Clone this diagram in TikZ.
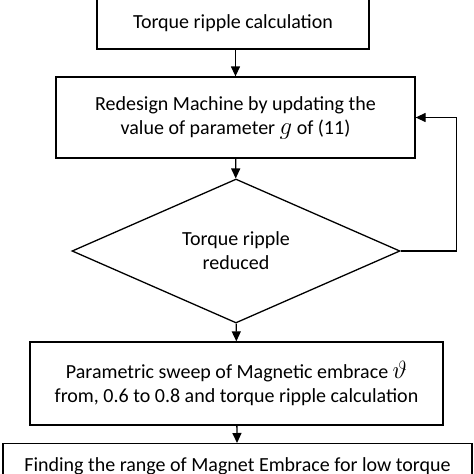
\documentclass[tikz,border=0pt]{standalone}
\usepackage{fontspec}
\setmainfont{Carlito}
\usetikzlibrary{
    arrows.meta,
    shapes.geometric,
    positioning
}
\newcommand{\bigsym}[1]{{\fontsize{24}{24}\selectfont$#1$}}

\begin{document}
\begin{tikzpicture}[x=1pt, y=-1pt,
    stepbox/.style={draw, line width=1.3pt, align=center, inner sep=0pt},
    flow/.style={line width=1.3pt, -{Triangle[length=10pt, width=9pt]}},
    font=\fontsize{20}{24}\selectfont]
    \useasboundingbox (0, 0) rectangle (474, 474);
    \clip (0, 0) rectangle (474, 474);
    \node[stepbox, minimum width=272, minimum height=52] (calc) at (233, 23) {Torque ripple calculation};
    \node[stepbox, minimum width=359, minimum height=81] (redesign) at (235.5, 117.5) {Redesign Machine by updating the\\value of parameter \bigsym{g} of (11)};
    \node[stepbox, diamond, aspect=2.28, minimum width=328, minimum height=144] (check) at (236, 251) {Torque ripple\\reduced};
    \node[stepbox, minimum width=413, minimum height=83] (sweep) at (236.5, 383.5) {Parametric sweep of Magnetic embrace \bigsym{\vartheta}\\from, 0.6 to 0.8 and torque ripple calculation};
    \node[stepbox, anchor=north, minimum width=469, text height=15pt, text depth=60pt, inner ysep=13pt] (range) at (237.5, 443) {Finding the range of Magnet Embrace for low torque};
    \draw[flow] (redesign.north |- calc.south) -- (redesign.north);
    \draw[flow] (redesign) -- (check);
    \draw[flow] (check) -- (sweep);
    \draw[flow] (sweep) -- (range);
    \draw[flow] (check.east) -- ++(56, 0) |- (redesign.east);
\end{tikzpicture}
\end{document}
